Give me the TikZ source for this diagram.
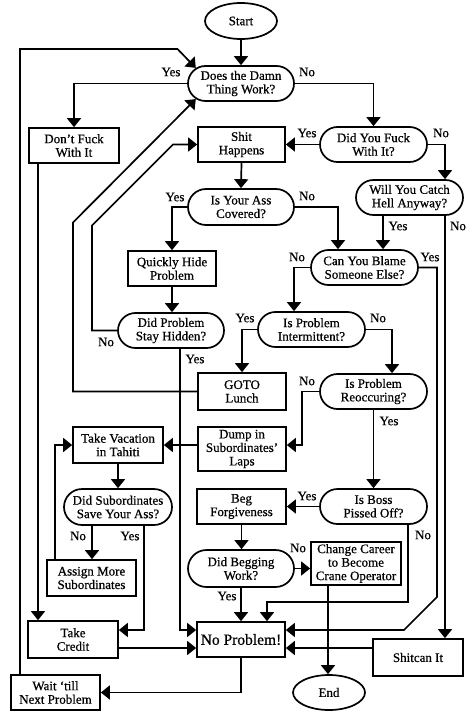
\documentclass[tikz,border=0pt]{standalone}
\usepackage{fontspec}
\setmainfont{Liberation Serif}[FakeBold=0.6]
\usetikzlibrary{shapes.geometric,shapes.misc,arrows.meta,calc}
\begin{document}
\begin{tikzpicture}[x=1pt,y=-1pt,
  line width=1.7pt,
  every node/.style={font=\fontsize{13}{13.5}\selectfont, align=center, inner sep=0pt},
  box/.style={draw, fill=white, rectangle},
  dec/.style={draw, fill=white, rounded rectangle, rounded rectangle arc length=180},
  term/.style={draw, fill=white, ellipse},
  sz/.style 2 args={minimum width=#1pt, minimum height=#2pt},
  arr/.style={-{Triangle[width=14pt,length=9pt]}},
]
\useasboundingbox (0,0) rectangle (474,714);

% nodes
\node[term,sz={72}{36}] (start) at (241,21) {Start};
\node[dec,sz={106}{35}] (dtw) at (241,83.5) {Does the Damn\\Thing Work?};
\node[box,sz={90}{35}] (dfw) at (74,145.5) {Don’t Fuck\\With It};
\node[box,sz={87}{35}] (sh) at (241.5,144.5) {Shit\\Happens};
\node[dec,sz={107}{35}] (dyf) at (373.5,144.5) {Did You Fuck\\With It?};
\node[dec,sz={107}{35}] (wyc) at (409.5,197.5) {Will You Catch\\Hell Anyway?};
\node[dec,sz={106}{36}] (iya) at (241,207) {Is Your Ass\\Covered?};
\node[box,sz={88}{35}] (qhp) at (172,268.5) {Quickly Hide\\Problem};
\node[dec,sz={107}{35}] (cyb) at (364.5,267.5) {Can You Blame\\Someone Else?};
\node[dec,sz={106}{35}] (dps) at (171,330.5) {Did Problem\\Stay Hidden?};
\node[dec,sz={107}{35}] (ipi) at (311.5,329.5) {Is Problem\\Intermittent?};
\node[box,sz={88}{37}] (goto) at (242,391.5) {GOTO\\Lunch};
\node[dec,sz={107}{35}] (ipr) at (373.5,391.5) {Is Problem\\Reoccuring?};
\node[box,sz={90}{36}] (tvt) at (118,445) {Take Vacation\\in Tahiti};
\node[box,sz={88}{44}] (dsl) at (242,449) {Dump in\\Subordinates’\\Laps};
\node[dec,sz={108}{36}] (dss) at (118,507) {Did Subordinates\\Save Your Ass?};
\node[box,sz={89}{35}] (bf) at (241.5,506.5) {Beg\\Forgiveness};
\node[dec,sz={107}{35}] (ibp) at (373.5,506.5) {Is Boss\\Pissed Off?};
\node[box,sz={89}{36}] (ams) at (91.5,578) {Assign More\\Subordinates};
\node[dec,sz={106}{37}] (dbw) at (241,568.5) {Did Begging\\Work?};
\node[box,sz={90}{43}] (ccc) at (356,563.5) {Change Career\\to Become\\Crane Operator};
\node[box,sz={90}{37}] (tc) at (73,639.5) {Take\\Credit};
\node[box,sz={88}{35},font=\fontsize{15.5}{16}\selectfont] (np) at (241,639.5) {No Problem!};
\node[box,sz={90}{37}] (sci) at (418,657.5) {Shitcan It};
\node[box,sz={89}{35}] (wnp) at (55.5,692.5) {Wait ‘till\\Next Problem};
\node[term,sz={72}{35}] (end) at (329,692.5) {End};

% helper coordinates
\coordinate (wycin) at ($(wyc.north)+(35.5,0)$);
\coordinate (cybin1) at ($(cyb.north)+(-26.5,0)$);
\coordinate (wycout) at ($(wyc.south)+(-26.5,0)$);
\coordinate (wycno) at ($(wyc.south)+(35.5,0)$);
\coordinate (ipiin) at ($(ipi.north)+(-17.5,0)$);
\coordinate (npR1) at ($(np.east)+(0,-9.5)$);
\coordinate (iprin) at ($(ipr.north)+(18.5,0)$);
\coordinate (dslR) at ($(dsl.east)+(0,-4)$);
\coordinate (dslL) at ($(dsl.west)+(0,-4)$);
\coordinate (ibpno) at ($(ibp.south)+(34.5,0)$);
\coordinate (npT2) at ($(np.north)+(26,0)$);
\coordinate (npT2b) at ($(np.north)+(26,-19)$);
\coordinate (cccout) at ($(ccc.south)+(-28,0)$);
\coordinate (sciL) at ($(sci.west)+(0,-9.5)$);
\coordinate (wnpT) at ($(wnp.north)+(-35.5,0)$);
\coordinate (dfwB) at ($(dfw.south)+(-36,0)$);
\coordinate (dssN) at ($(dss.south)+(-26,0)$);
\coordinate (dssY) at ($(dss.south)+(26,0)$);
\coordinate (tcR1) at ($(tc.east)+(0,-9.5)$);
\coordinate (tcR2) at ($(tc.east)+(0,8.5)$);
\coordinate (amsT) at ($(ams.north)+(-36.5,0)$);
\coordinate (dpsY) at ($(dps.south)+(9,0)$);
\coordinate (npL1) at ($(np.west)+(0,-9.5)$);

% connectors
\draw[arr] (start.south) -- (dtw.north);
\draw[arr] (dtw.west) -| (dfw.north);
\draw[arr] (dtw.east) -| (dyf.north);
\draw[arr] (dyf.west) -- (sh.east);
\draw[arr] (dyf.east) -| (wycin);
\draw[arr] (sh.south) -- (iya.north);
\draw[arr] (iya.west) -| (qhp.north);
\draw[arr] (iya.east) -| (cybin1);
\draw[arr] (wycout) -- (wycout |- cyb.north);
\draw[arr] (wycno) -- (wycno |- sci.north);
\draw[arr] (qhp.south) -- (qhp.south |- dps.north);
\draw[arr] (dps.west) -| (92,225.5) -- (173,144.5) -- (sh.west);
\draw[arr] (goto.west) -| (73,222.5) -- (dtw.199);
\draw[arr] (cyb.west) -| (ipiin);
\draw[arr] (cyb.east) -| (437,597) -- (404,630) -- (npR1);
\draw[arr] (ipi.west) -| (goto.north);
\draw[arr] (ipi.east) -| (iprin);
\draw[arr] (ipr.west) -| (302,445) -- (dslR);
\draw[arr] (dslL) -- (tvt.east);
\draw[arr] (ipr.south) -- (ibp.north);
\draw[arr] (ibp.west) -- (bf.east);
\draw[arr] (bf.south) -- (bf.south |- dbw.north);
\draw[arr] (dbw.east) -- (dbw.east -| ccc.west);
\draw[arr] (dbw.south) -- (np.north);
\draw[arr] (ibpno) |- (npT2b) -- (npT2);
\draw[arr] (cccout) -- (cccout |- end.north);
\draw[arr] (sciL) -- (sciL -| np.east);
\draw[arr] (np.south) |- (wnp.east);
\draw[arr] (wnpT) -- (20,49) -- (177.5,49) -- (dtw.161);
\draw[arr] (dfwB) -- (dfwB |- tc.north);
\draw[arr] (tvt.south) -- (dss.north);
\draw[arr] (dssN) -- (dssN |- ams.north);
\draw[arr] (dssY) |- (tcR1);
\draw[arr] (amsT) |- (tvt.west);
\draw[arr] (tcR2) -- (tcR2 -| np.west);
\draw[arr] (dpsY) |- (npL1);

% labels
\node (l1) at (171,72) {Yes};
\node (l2) at (307,72) {No};
\node (l3) at (307,133) {Yes};
\node (l4) at (441,133) {No};
\node (l5) at (175,197) {Yes};
\node (l6) at (307,196) {No};
\node (l7) at (398,226) {Yes};
\node (l8) at (458,226) {No};
\node (l9) at (297,257) {No};
\node (l10) at (430,257) {Yes};
\node (l11) at (245,318) {Yes};
\node (l12) at (378,318) {No};
\node (l13) at (106,342) {No};
\node (l14) at (195,359) {Yes};
\node (l15) at (307,381) {No};
\node (l16) at (389,421) {Yes};
\node (l17) at (307,496) {Yes};
\node (l18) at (423,535) {No};
\node (l19) at (78,536) {No};
\node (l20) at (130,536) {Yes};
\node (l21) at (298,548) {No};
\node (l22) at (227,596) {Yes};
\end{tikzpicture}
\end{document}
